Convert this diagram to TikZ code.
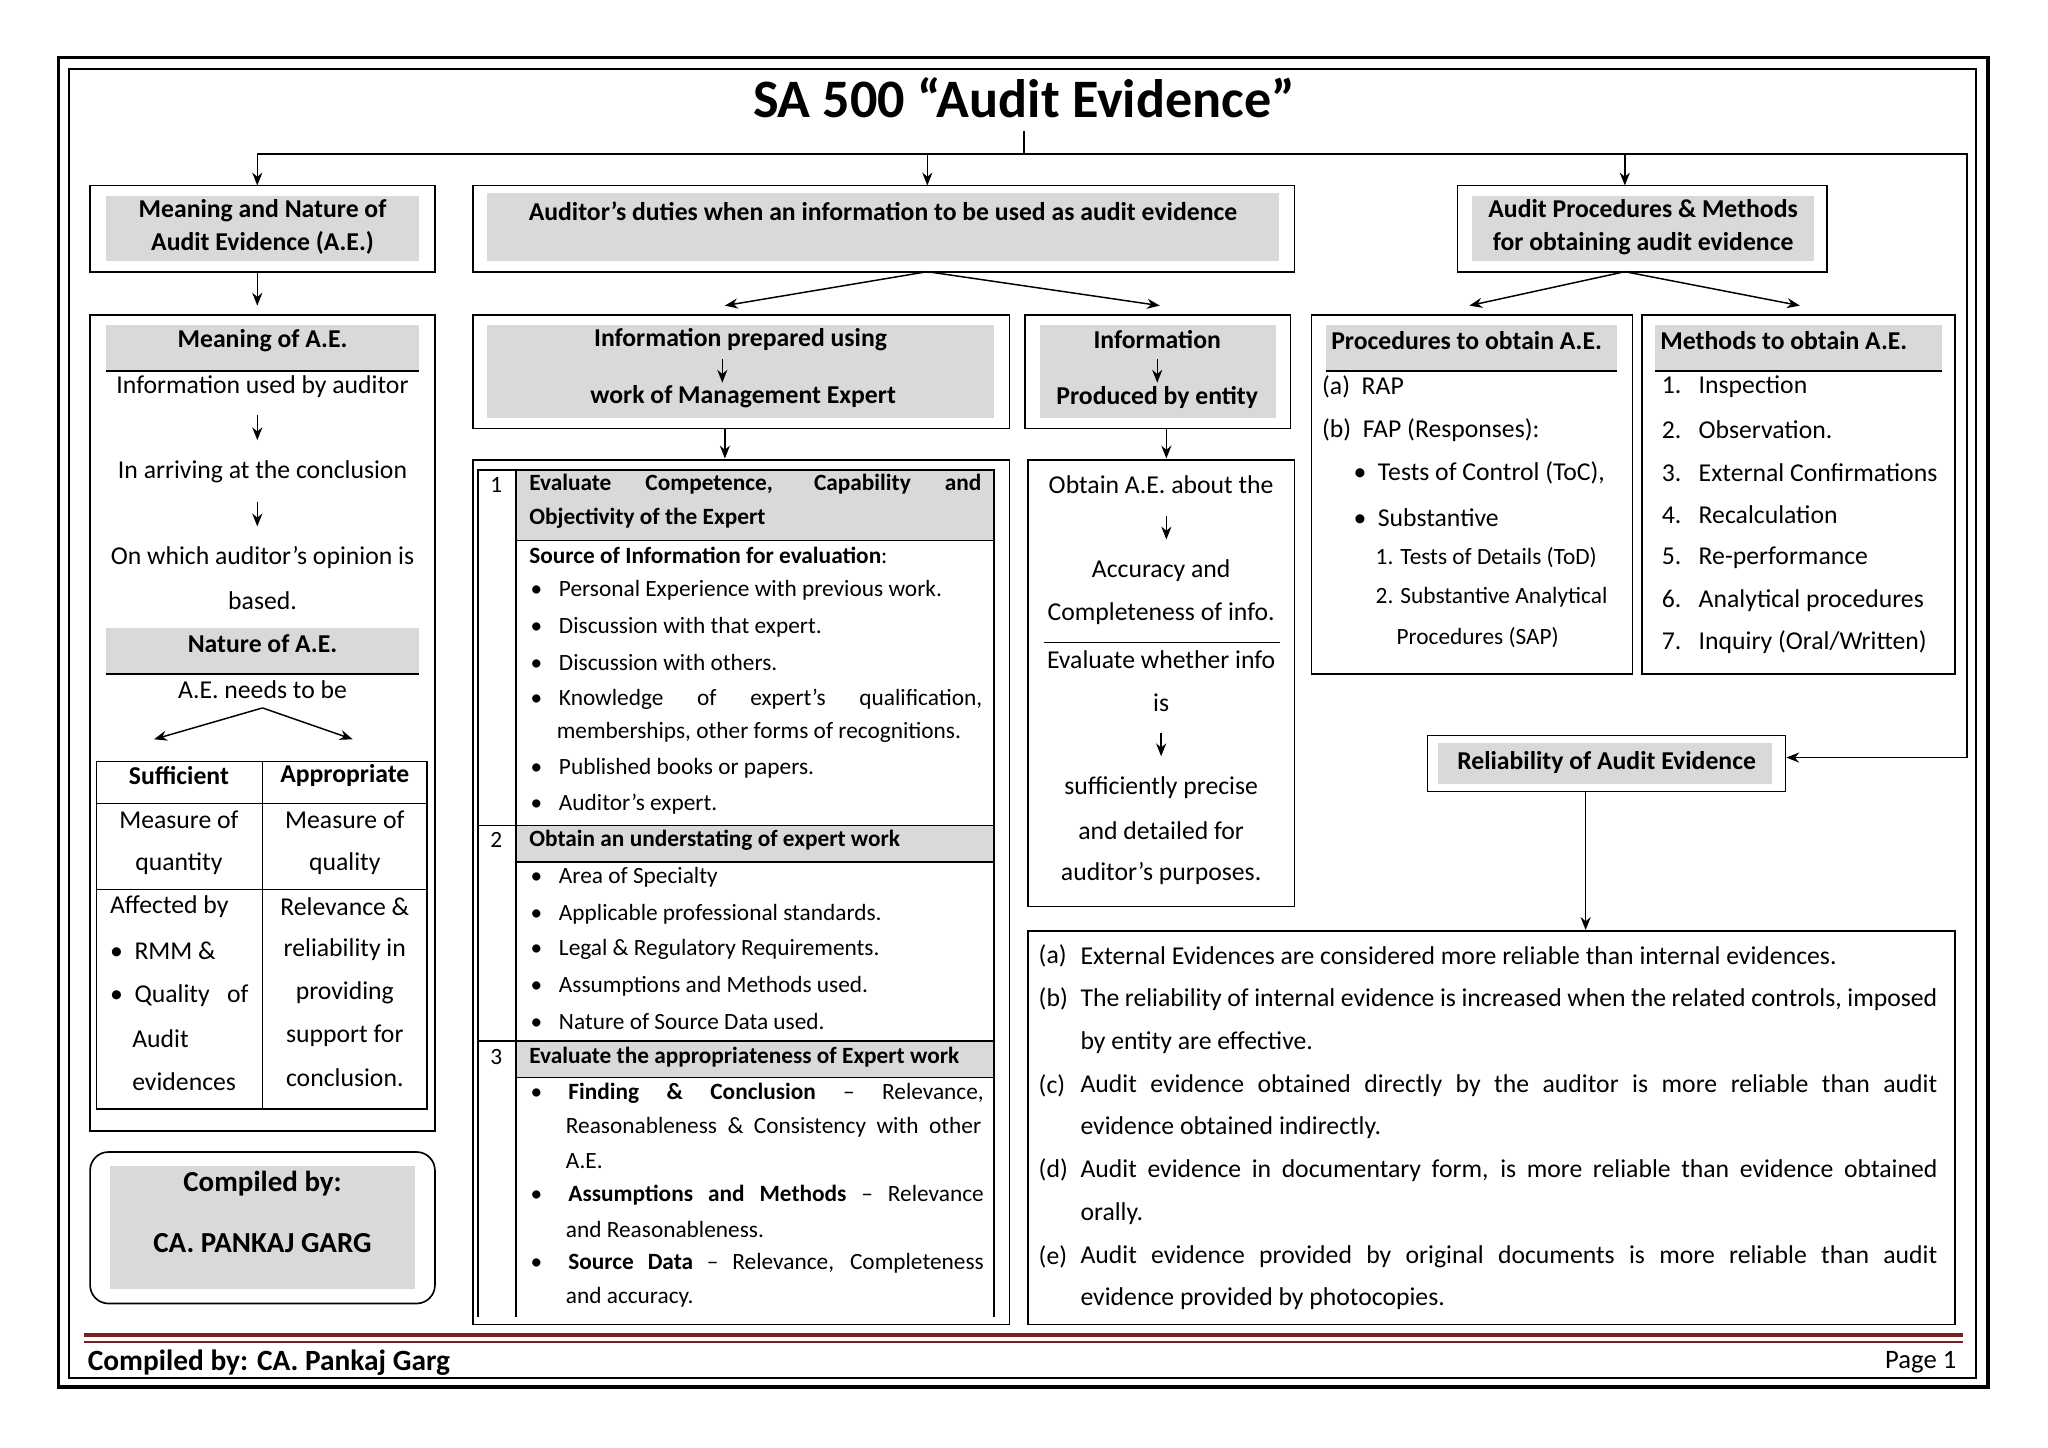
\documentclass[tikz,border=0pt]{standalone}
\usepackage{fontspec}
\setmainfont{Carlito}
\usetikzlibrary{arrows.meta,fit}
\definecolor{gr}{HTML}{D9D9D9}
\definecolor{dred}{HTML}{7A1E1E}
\newcommand\fb{\fontsize{14}{16}\selectfont}
\newcommand\fs{\fontsize{12.7}{14}\selectfont}
\newcounter{nn}
\newcommand\tx[4][]{\stepcounter{nn}\node[txt,#1] (n\thenn) at (#2,#3) {#4};}
\newcommand\J[2]{\makebox[#1mm][s]{#2}}
\tikzset{
 txt/.style={inner sep=0pt,font=\fb},
 w/.style={anchor=west},
 sm/.style={font=\fs},
 bx/.style={draw,line width=0.9pt,inner sep=0pt},
 gbox/.style={fill=gr,inner sep=0pt},
 arr/.style={line width=0.8pt,-{Stealth[length=7pt,width=5.5pt]}},
 ln/.style={line width=0.8pt}
}
\begin{document}
\begin{tikzpicture}[x=0.25mm,y=-0.25mm]
\useasboundingbox (0,0) rectangle (1568,1108);
% frame
\draw[line width=1.8pt] (45,44) rectangle (1522,1062);
\draw[line width=1pt] (53,53) rectangle (1513,1055);
\draw[dred,line width=2.2pt] (64,1022) -- (1503,1022);
\draw[dred,line width=1pt] (64,1027.5) -- (1503,1027.5);
\node[txt,anchor=west,font=\fontsize{16}{18}\selectfont\bfseries] (foot) at (67,1043) {Compiled by: CA. Pankaj Garg};
\node[txt,anchor=east,font=\fontsize{14.5}{16}\selectfont] (page) at (1498,1043) {Page 1};
% title
\node[txt,font=\fontsize{29.5}{32}\selectfont\bfseries] (title) at (784,75) {SA 500 “Audit Evidence”};
\coordinate (t0) at (784,100);
\coordinate (t1) at (784,118);
\coordinate (hl) at (197,118);
\coordinate (hm) at (710,118);
\coordinate (hr) at (1244,118);
\coordinate (he) at (1506,118);
\coordinate (hre) at (1506,580);
% boxes
\node[bx,fit={(69,142)(333,208)}] (A) {};
\node[gbox,fit={(81,150)(321,200)}] (Ag) {};
\node[txt,font=\fb\bfseries,align=center] (At) at (201,174) {Meaning and Nature of\\[2pt]Audit Evidence (A.E.)};
\node[bx,fit={(362,142)(991,208)}] (B) {};
\node[gbox,fit={(373,148)(979,200)}] (Bg) {};
\node[txt,font=\fb\bfseries] (Bt) at (676,162) {Auditor’s duties when an information to be used as audit evidence};
\node[bx,fit={(1116,142)(1399,208)}] (C) {};
\node[gbox,fit={(1127,150)(1389,200)}] (Cg) {};
\node[txt,font=\fb\bfseries,align=center] (Ct) at (1258,174) {Audit Procedures \& Methods\\[2pt]for obtaining audit evidence};
\draw[ln] (t0) -- (t1);
\draw[ln] (hl) -- (he) -- (hre);
\draw[arr] (hl) -- (197,142);
\draw[arr] (hm) -- (710,142);
\draw[arr] (hr) -- (1244,142);
% Box D
\node[bx,fit={(69,241)(333,866)}] (D) {};
\draw[arr] (197,208) -- (197,234);
\node[gbox,fit={(81,249)(321,283)}] (Dg1) {};
\draw[ln] (81,284) -- (321,284);
\node[txt,font=\fb\bfseries] (d1) at (201,261) {Meaning of A.E.};
\node[txt] (d2) at (201,296) {Information used by auditor};
\node[txt] (d3) at (201,361) {In arriving at the conclusion};
\node[txt] (d4) at (201,427) {On which auditor’s opinion is};
\node[txt] (d5) at (201,460) {based.};
\draw[arr] (197,318) -- (197,337);
\draw[arr] (197,384) -- (197,403);
\node[gbox,fit={(81,481)(321,515)}] (Dg2) {};
\draw[ln] (81,516) -- (321,516);
\node[txt,font=\fb\bfseries] (d6) at (201,493) {Nature of A.E.};
\node[txt] (d7) at (201,528) {A.E. needs to be};
\draw[arr] (201,542) -- (118,566);
\draw[arr] (201,542) -- (270,566);
\node[bx,fit={(74,583)(327,849)}] (Tb) {};
\draw[line width=0.8pt] (201,583) -- (201,849) (74,615) -- (327,615) (74,681) -- (327,681);
\tx[font=\fb\bfseries]{137}{594}{Sufficient}
\tx[font=\fb\bfseries]{264}{594}{Appropriate}
\tx{137}{628}{Measure of}
\tx{137}{661}{quantity}
\tx{264}{628}{Measure of}
\tx{264}{661}{quality}
\tx[w]{84}{694}{Affected by}
\tx[w]{84}{728}{\textbullet\ \ RMM \&}
\tx[w]{84}{762}{\textbullet\ \ Quality\ \ \ of}
\tx[w]{101}{795}{Audit}
\tx[w]{101}{828}{evidences}
\tx{264}{694}{Relevance \&}
\tx{264}{727}{reliability in}
\tx{264}{760}{providing}
\tx{264}{793}{support for}
\tx{264}{825}{conclusion.}
% compiled box
\node[bx,rounded corners=10pt,fit={(69,882)(333,998)}] (Cmp) {};
\node[gbox,fit={(84,893)(318,987)}] (Cmpg) {};
\node[txt,font=\fontsize{15.8}{18}\selectfont\bfseries] (c1) at (201,906) {Compiled by:};
\node[txt,font=\fontsize{15.8}{18}\selectfont\bfseries] (c2) at (201,952) {CA. PANKAJ GARG};
% E, F
\draw[arr] (710,208) -- (555,234);
\draw[arr] (710,208) -- (888,234);
\node[bx,fit={(362,241)(773,328)}] (E) {};
\node[gbox,fit={(373,249)(761,320)}] (Eg) {};
\node[txt,font=\fb\bfseries] (e1) at (567,260) {Information prepared using};
\node[txt,font=\fb\bfseries] (e2) at (569,304) {work of Management Expert};
\draw[arr] (553,275) -- (553,293);
\node[bx,fit={(785,241)(988,328)}] (F) {};
\node[gbox,fit={(796,249)(977,320)}] (Fg) {};
\node[txt,font=\fb\bfseries] (f1) at (886,260) {Information};
\node[txt,font=\fb\bfseries] (f2) at (886,304) {Produced by entity};
\draw[arr] (886,275) -- (886,293);
\draw[arr] (555,328) -- (555,351);
\draw[arr] (893,328) -- (893,351);
% G
\node[bx,fit={(362,352)(773,1014)}] (G) {};
\node[gbox,fit={(395,360)(761,414)}] (Gg1) {};
\node[gbox,fit={(395,632)(761,660)}] (Gg2) {};
\node[gbox,fit={(395,797)(761,825)}] (Gg3) {};
\draw[line width=0.8pt] (366,1008) -- (366,360) -- (761,360) -- (761,1008) (395,360) -- (395,1008)
 (366,632) -- (761,632) (395,414) -- (761,414) (366,797) -- (761,797) (395,660) -- (761,660) (395,825) -- (761,825);
\begin{scope}[every node/.style={txt,sm}]
\node at (380,371) (g1) {1};
\node at (380,643) (g2) {2};
\node at (380,809) (g3) {3};
\node[w] at (405,371) (g4) {\bfseries\J{86.5}{Evaluate Competence, Capability and}};
\node[w] at (405,397) (g5) {\bfseries Objectivity of the Expert};
\node[w] at (405,425) (g6) {\bfseries Source of Information for evaluation\mdseries:};
\node[w] at (406,452) (g7) {\textbullet\hspace{3.2mm}Personal Experience with previous work.};
\node[w] at (406,480) (g8) {\textbullet\hspace{3.2mm}Discussion with that expert.};
\node[w] at (406,507) (g9) {\textbullet\hspace{3.2mm}Discussion with others.};
\node[w] at (406,535) (g10) {\textbullet\hspace{3.2mm}\J{81}{Knowledge of expert’s qualification,}};
\node[w] at (426,561) (g11) {memberships, other forms of recognitions.};
\node[w] at (406,588) (g12) {\textbullet\hspace{3.2mm}Published books or papers.};
\node[w] at (406,616) (g13) {\textbullet\hspace{3.2mm}Auditor’s expert.};
\node[w] at (405,643) (g14) {\bfseries Obtain an understating of expert work};
\node[w] at (406,672) (g15) {\textbullet\hspace{3.2mm}Area of Specialty};
\node[w] at (406,700) (g16) {\textbullet\hspace{3.2mm}Applicable professional standards.};
\node[w] at (406,727) (g17) {\textbullet\hspace{3.2mm}Legal \& Regulatory Requirements.};
\node[w] at (406,755) (g18) {\textbullet\hspace{3.2mm}Assumptions and Methods used.};
\node[w] at (406,782) (g19) {\textbullet\hspace{3.2mm}Nature of Source Data used.};
\node[w] at (405,809) (g20) {\bfseries Evaluate the appropriateness of Expert work};
\node[w] at (406,837) (g21) {\textbullet\hspace{5mm}\J{79.5}{\bfseries Finding \& Conclusion\mdseries\ – Relevance,}};
\node[w] at (433,863) (g22) {\J{79.5}{Reasonableness \& Consistency with other}};
\node[w] at (433,889) (g23) {A.E.};
\node[w] at (406,915) (g24) {\textbullet\hspace{5mm}\J{79.5}{\bfseries Assumptions and Methods\mdseries\ – Relevance}};
\node[w] at (433,941) (g25) {and Reasonableness.};
\node[w] at (406,967) (g26) {\textbullet\hspace{5mm}\J{79.5}{\bfseries Source Data\mdseries\ – Relevance, Completeness}};
\node[w] at (433,993) (g27) {and accuracy.};
\end{scope}
% H
\node[bx,fit={(787,352)(991,694)}] (H) {};
\tx{889}{371}{Obtain A.E. about the}
\tx{889}{437}{Accuracy and}
\tx{889}{470}{Completeness of info.}
\tx{889}{505}{Evaluate whether info}
\tx{889}{538}{is}
\tx{889}{603}{sufficiently precise}
\tx{889}{636}{and detailed for}
\tx{889}{669}{auditor’s purposes.}
\draw[arr] (893,395) -- (893,413);
\draw[ln] (799,492) -- (980,492);
\draw[arr] (889,561) -- (889,579);
% I, J
\draw[arr] (1244,208) -- (1125,234);
\draw[arr] (1244,208) -- (1378,234);
\node[bx,fit={(1004,241)(1250,516)}] (I) {};
\node[gbox,fit={(1015,249)(1238,283)}] (Ig) {};
\draw[ln] (1015,284) -- (1238,284);
\tx[w,font=\fb\bfseries]{1019}{261}{Procedures to obtain A.E.}
\tx[w]{1012}{296}{(a)\ \ RAP}
\tx[w]{1012}{329}{(b)\ \ FAP (Responses):}
\tx[w]{1036}{362}{\textbullet\ \ Tests of Control (ToC),}
\tx[w]{1036}{396}{\textbullet\ \ Substantive}
\tx[w,sm]{1053}{427}{1. Tests of Details (ToD)}
\tx[w,sm]{1053}{457}{2. Substantive Analytical}
\tx[w,sm]{1069}{488}{Procedures (SAP)}
\node[bx,fit={(1257,241)(1497,516)}] (Jb) {};
\node[gbox,fit={(1267,249)(1487,283)}] (Jg) {};
\draw[ln] (1267,284) -- (1487,284);
\tx[w,font=\fb\bfseries]{1271}{261}{Methods to obtain A.E.}
\tx[w]{1272}{296}{1.\ \ \ Inspection}
\tx[w]{1272}{329}{2.\ \ \ Observation.}
\tx[w]{1272}{362}{3.\ \ \ External Confirmations}
\tx[w]{1272}{394}{4.\ \ \ Recalculation}
\tx[w]{1272}{427}{5.\ \ \ Re-performance}
\tx[w]{1272}{460}{6.\ \ \ Analytical procedures}
\tx[w]{1272}{492}{7.\ \ \ Inquiry (Oral/Written)}
% Reliability
\node[bx,fit={(1093,563)(1367,606)}] (R) {};
\node[gbox,fit={(1101,569)(1357,600)}] (Rg) {};
\node[txt,font=\fb\bfseries] (Rt) at (1230,584) {Reliability of Audit Evidence};
\draw[arr] (hre) -- (hre -| R.east);
\node[bx,fit={(787,713)(1497,1014)}] (K) {};
\draw[arr] (1214,606) -- (1214,712);
\tx[w]{795}{732}{(a)}
\tx[w]{795}{765}{(b)}
\tx[w]{795}{831}{(c)}
\tx[w]{795}{896}{(d)}
\tx[w]{795}{962}{(e)}
\tx[w]{827}{732}{External Evidences are considered more reliable than internal evidences.}
\tx[w]{827}{765}{\J{164}{The reliability of internal evidence is increased when the related controls, imposed}}
\tx[w]{827}{798}{by entity are effective.}
\tx[w]{827}{831}{\J{164}{Audit evidence obtained directly by the auditor is more reliable than audit}}
\tx[w]{827}{863}{evidence obtained indirectly.}
\tx[w]{827}{896}{\J{164}{Audit evidence in documentary form, is more reliable than evidence obtained}}
\tx[w]{827}{929}{orally.}
\tx[w]{827}{962}{\J{164}{Audit evidence provided by original documents is more reliable than audit}}
\tx[w]{827}{994}{evidence provided by photocopies.}
\end{tikzpicture}
\end{document}
